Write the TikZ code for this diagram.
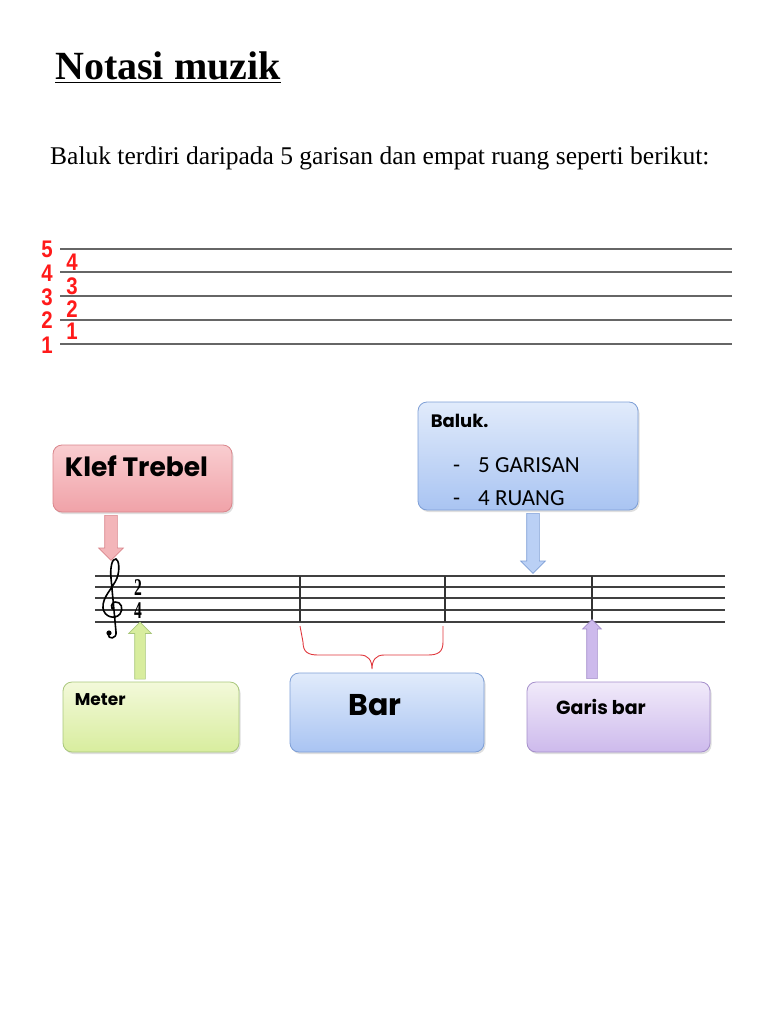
\documentclass[tikz,border=0pt]{standalone}
\usepackage{fontspec}
\setmainfont{Liberation Serif}
\newfontfamily\gothicfont{Poppins}
\newfontfamily\calibfont{Carlito}
\newfontfamily\arialfont{Liberation Sans}
\usepackage{tikz}
\usetikzlibrary{shapes.arrows,shadows,positioning}

\definecolor{pinktop}{HTML}{F9CDD0}
\definecolor{pinkbot}{HTML}{F0A2A8}
\definecolor{pinkline}{HTML}{D9868C}
\definecolor{bluetop}{HTML}{E1EBFB}
\definecolor{bluebot}{HTML}{A9C4F2}
\definecolor{blueline}{HTML}{7E9FD6}
\definecolor{greentop}{HTML}{F3F9DA}
\definecolor{greenbot}{HTML}{D8ED9E}
\definecolor{greenline}{HTML}{A9C77C}
\definecolor{purptop}{HTML}{F1EAFA}
\definecolor{purpbot}{HTML}{CDBAEC}
\definecolor{purpline}{HTML}{A58FCB}
\definecolor{numred}{HTML}{FF1A1A}
\definecolor{bracered}{HTML}{E0373C}

\begin{document}
\begin{tikzpicture}[x=1pt,y=-1pt,
calloutbox/.style={rectangle, rounded corners=9pt, draw, line width=0.8pt, inner sep=0pt,
  drop shadow={opacity=0.25, shadow xshift=1.5pt, shadow yshift=-2pt}},
blockarrow/.style={single arrow, draw, line width=0.7pt, inner sep=6pt,
  single arrow head extend=6pt, sloped, allow upside down},
rednum/.style={text=numred, font=\arialfont\bfseries\fontsize{24}{24}\selectfont, inner sep=0pt},
boxlabel/.style={font=\gothicfont\bfseries, inner sep=0pt},
timesig/.style={inner sep=0pt, font=\bfseries\fontsize{24}{24}\selectfont},
]
\useasboundingbox (0,0) rectangle (768,1024);

%Text
\node[anchor=base west, inner sep=0pt, font=\bfseries\fontsize{40}{42}\selectfont] (title) at (55,80) {\underline{Notasi muzik}};
\node[anchor=base west, inner sep=0pt, font=\fontsize{25.5}{27}\selectfont] (intro) at (50,165) {Baluk terdiri daripada 5 garisan dan empat ruang seperti berikut:};

%Baluk with numbers
\foreach \y in {249,272,296,320,344}
  \draw[line width=2pt, black!60] (60,\y) -- (732,\y);
\foreach \n/\y in {5/249,4/273,3/297,2/320,1/345}
  \node[rednum] (garis\n) at (47,\y) {\scalebox{0.85}[1]{\n}};
\foreach \n/\y in {4/262,3/286,2/309,1/331}
  \node[rednum] (ruang\n) at (72,\y) {\scalebox{0.85}[1]{\n}};

%Staff
\foreach \y in {576,587,598,610,622}
  \draw[line width=1.5pt, black!75] (95,\y) -- (725,\y);
\foreach \x [count=\i] in {300,445,592}
  \draw[line width=1.2pt, black!80] (\x,576) -- (\x,622) coordinate (bar\i);

%Treble clef
\draw[line width=1.6pt] (114,610) .. controls (110,608) and (111,603) .. (115,602)
  .. controls (121,601) and (124,609) .. (120,614) .. controls (115,620) and (104,617) .. (103,608)
  .. controls (102,597) and (113,588) .. (117,578) .. controls (120,570) and (119,560) .. (116,559)
  .. controls (112,558) and (110,568) .. (111,578) -- (116,632)
  .. controls (117,639) and (108,640) .. (108,634);
\fill (109,633) circle (2.6pt);
\coordinate (cleftop) at (111,557);

%Meter
\node[timesig] (metertop) at (138,588) {\scalebox{0.65}[1]{2}};
\node[timesig] (meterbot) at (138,611) {\scalebox{0.65}[1]{4}};
\coordinate (metertip) at (140,625);

%Boxes
\node[calloutbox, draw=pinkline, top color=pinktop, bottom color=pinkbot, minimum width=179pt, minimum height=67pt] (klef) at (142.5,478.5) {};
\node[calloutbox, draw=blueline, top color=bluetop, bottom color=bluebot, minimum width=220pt, minimum height=108pt] (baluk) at (528,456) {};
\node[calloutbox, draw=greenline, top color=greentop, bottom color=greenbot, minimum width=176pt, minimum height=70pt] (meter) at (151,717) {};
\node[calloutbox, draw=blueline, top color=bluetop, bottom color=bluebot, minimum width=194pt, minimum height=79pt] (bar) at (387,712.5) {};
\node[calloutbox, draw=purpline, top color=purptop, bottom color=purpbot, minimum width=183pt, minimum height=70pt] (garisbar) at (618.5,717) {};

%Box texts
\node[boxlabel, font=\gothicfont\bfseries\fontsize{26.5}{26.5}\selectfont, below right=11pt and 12pt of klef.north west] (kleftext) {Klef Trebel};
\node[boxlabel, font=\gothicfont\bfseries\fontsize{18}{18}\selectfont, below right=12pt and 13pt of baluk.north west] (baluktext) {Baluk.};
\node[anchor=base west, inner sep=0pt, font=\calibfont\fontsize{23}{23}\selectfont] (dash1) at (453,472) {-};
\node[anchor=base west, inner sep=0pt, font=\calibfont\fontsize{23}{23}\selectfont] (garisan) at (478,472) {5 GARISAN};
\node[anchor=base west, inner sep=0pt, font=\calibfont\fontsize{23}{23}\selectfont] (dash2) at (453,505) {-};
\node[anchor=base west, inner sep=0pt, font=\calibfont\fontsize{23}{23}\selectfont] (ruang) at (478,505) {4 RUANG};
\node[boxlabel, font=\gothicfont\bfseries\fontsize{17}{17}\selectfont, below right=12pt and 12pt of meter.north west] (metertext) {Meter};
\node[boxlabel, font=\gothicfont\bfseries\fontsize{30}{30}\selectfont, anchor=base] (bartext) at (375,715) {Bar};
\node[boxlabel, font=\gothicfont\bfseries\fontsize{19}{19}\selectfont, anchor=base] (garisbartext) at (601,714) {Garis bar};

%Arrows
\path (klef.south -| cleftop) -- node[blockarrow, draw=pinkline, fill=pinkbot!80, minimum height=45pt] (klefarrow) {} (cleftop);
\path (baluk.south -| 533,0) -- node[blockarrow, draw=blueline, fill=bluebot!80, minimum height=60pt] (balukarrow) {} (533,570);
\path (meter.north -| metertip) -- node[blockarrow, draw=greenline, fill=greenbot, inner sep=5pt, minimum height=57pt] (meterarrow) {} (metertip);
\path (garisbar.north -| bar3) -- node[blockarrow, draw=purpline, fill=purpbot, inner sep=5pt, minimum height=59pt, single arrow head extend=4pt] (garisarrow) {} (bar3);

%Brace
\draw[bracered, line width=0.9pt] (bar1 |- 0,626) -- (303,642) .. controls (303,652) and (308,655) .. (318,655)
  -- (360,655) .. controls (368,655) and (372,660) .. (372,669)
  .. controls (372,660) and (376,655) .. (384,655) -- (428,655)
  .. controls (438,655) and (443,652) .. (443,642) -- (443,626);
\end{tikzpicture}
\end{document}
